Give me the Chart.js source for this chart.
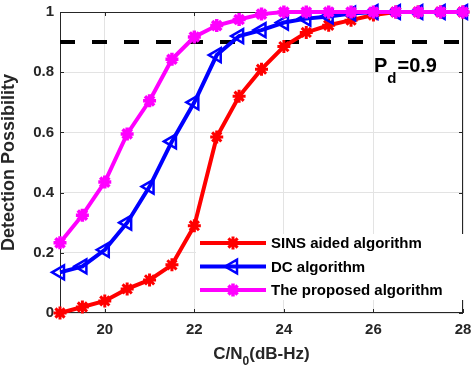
<!DOCTYPE html>
<html>
<head>
<meta charset="utf-8">
<script src="https://cdn.jsdelivr.net/npm/chart.js@4/dist/chart.umd.min.js"></script>
<style>
  html, body { margin: 0; padding: 0; background: #fff; }
  #wrap { width: 474px; height: 370px; }
</style>
</head>
<body>
<div id="wrap"><canvas id="detection-chart" width="474" height="370"></canvas></div>
<script>
// C/N0 sweep (dB-Hz)
const cnValues = [19, 19.5, 20, 20.5, 21, 21.5, 22, 22.5, 23, 23.5, 24, 24.5, 25, 25.5, 26, 26.5, 27, 27.5, 28]
const sinsValues = [0, 0.02, 0.04, 0.08, 0.11, 0.16, 0.29, 0.585, 0.72, 0.81, 0.885, 0.932, 0.956, 0.973, 0.99, 1, 1, 1, 1]
const dcValues = [0.135, 0.155, 0.21, 0.30, 0.42, 0.57, 0.70, 0.857, 0.92, 0.94, 0.965, 0.978, 0.985, 0.995, 1, 1, 1, 1, 1]
const proposedValues = [0.233, 0.325, 0.435, 0.595, 0.705, 0.843, 0.917, 0.955, 0.975, 0.993, 1, 1, 1, 1, 1, 1, 1, 1, 1]
const thresholdValue = 0.9
const xTicks = [20, 22, 24, 26, 28]
const yTicks = [0, 0.2, 0.4, 0.6, 0.8, 1]
const seriesNames = ['SINS aided algorithm', 'DC algorithm', 'The proposed algorithm']

const fontFamily = '"Liberation Sans", Arial, Helvetica, sans-serif'
const textColor = '#262626'

function toPoints(values) {
    return cnValues.map((x, i) => ({ x: x, y: values[i] }))
}

// draws box, inward ticks, legend, annotation and x title (with subscripts)
const decorations = {
    id: 'decorations',
    beforeDatasetsDraw(chart) {
        const { ctx, chartArea: a, scales } = chart
        ctx.save()
        ctx.strokeStyle = textColor
        ctx.lineWidth = 1
        ctx.strokeRect(a.left + 0.5, a.top + 0.5, a.right - a.left - 1, a.bottom - a.top - 1)
        ctx.beginPath()
        xTicks.forEach(v => {
            const px = Math.round(scales.x.getPixelForValue(v)) + 0.5
            ctx.moveTo(px, a.bottom); ctx.lineTo(px, a.bottom - 4)
            ctx.moveTo(px, a.top); ctx.lineTo(px, a.top + 4)
        })
        yTicks.forEach(v => {
            const py = Math.round(scales.y.getPixelForValue(v)) + 0.5
            ctx.moveTo(a.left, py); ctx.lineTo(a.left + 4, py)
            ctx.moveTo(a.right, py); ctx.lineTo(a.right - 4, py)
        })
        ctx.stroke()
        ctx.restore()
    },
    afterDraw(chart) {
        const { ctx, chartArea: a } = chart
        ctx.save()

        // legend
        const lx = 196, ly = 234
        ctx.fillStyle = '#fff'
        ctx.fillRect(lx, ly, 274, 66)
        const rows = chart.data.datasets.filter(d => d.legendRow !== undefined)
            .sort((p, q) => p.legendRow - q.legendRow)
        rows.forEach((ds, i) => {
            const y = 243 + i * 23.5
            ctx.strokeStyle = ds.borderColor
            ctx.fillStyle = ds.pointBackgroundColor
            ctx.lineWidth = ds.borderWidth
            ctx.setLineDash([])
            ctx.beginPath()
            ctx.moveTo(200, y)
            ctx.lineTo(266, y)
            ctx.stroke()
            ctx.lineWidth = ds.pointBorderWidth
            Chart.helpers.drawPoint(ctx, {
                pointStyle: ds.pointStyle,
                radius: ds.pointRadius,
                rotation: ds.pointRotation || 0,
                borderWidth: ds.pointBorderWidth
            }, 233, y)
            ctx.fillStyle = '#000'
            ctx.font = 'bold 15px ' + fontFamily
            ctx.textBaseline = 'middle'
            ctx.textAlign = 'left'
            ctx.fillText(ds.label, 271, y + 1)
        })

        // P_d = 0.9 label
        ctx.fillStyle = '#000'
        ctx.textBaseline = 'alphabetic'
        ctx.textAlign = 'left'
        ctx.font = 'bold 20px ' + fontFamily
        ctx.fillText('P', 374, 72)
        let px = 374 + ctx.measureText('P').width
        ctx.font = 'bold 15px ' + fontFamily
        ctx.fillText('d', px, 83)
        px += ctx.measureText('d').width + 1
        ctx.font = 'bold 20px ' + fontFamily
        ctx.fillText('=' + thresholdValue, px, 72)

        // x axis title C/N0(dB-Hz)
        ctx.fillStyle = textColor
        const parts = [['C/N', 17, 0], ['0', 12, 6], ['(dB-Hz)', 17, 0]]
        let total = 0
        parts.forEach(p => { ctx.font = 'bold ' + p[1] + 'px ' + fontFamily; total += ctx.measureText(p[0]).width })
        let tx = (a.left + a.right) / 2 - total / 2
        parts.forEach(p => {
            ctx.font = 'bold ' + p[1] + 'px ' + fontFamily
            ctx.fillText(p[0], tx, 359 + p[2])
            tx += ctx.measureText(p[0]).width
        })
        ctx.restore()
    }
}

const data = {
    datasets: [{
        label: seriesNames[2],
        legendRow: 2,
        data: toPoints(proposedValues),
        borderColor: '#ff00ff',
        pointBackgroundColor: '#ff00ff',
        pointBorderColor: '#ff00ff',
        borderWidth: 4,
        pointStyle: 'star',
        pointRadius: 6.5,
        pointBorderWidth: 3.5,
        order: 0,
        clip: false
    }, {
        label: seriesNames[1],
        legendRow: 1,
        data: toPoints(dcValues),
        borderColor: '#0000ff',
        pointBackgroundColor: 'rgba(0,0,0,0)',
        pointBorderColor: '#0000ff',
        borderWidth: 4,
        pointStyle: 'triangle',
        pointRotation: -90,
        pointRadius: 8,
        pointBorderWidth: 2.5,
        order: 1,
        clip: false
    }, {
        label: seriesNames[0],
        legendRow: 0,
        data: toPoints(sinsValues),
        borderColor: '#ff0000',
        pointBackgroundColor: '#ff0000',
        pointBorderColor: '#ff0000',
        borderWidth: 4,
        pointStyle: 'star',
        pointRadius: 6.5,
        pointBorderWidth: 3,
        order: 2,
        clip: false
    }, {
        label: 'threshold',
        data: [{ x: cnValues[0], y: thresholdValue }, { x: cnValues[cnValues.length - 1], y: thresholdValue }],
        borderColor: '#000',
        borderWidth: 4,
        borderDash: [15, 17],
        pointRadius: 0,
        order: 3
    }]
}

const config = {
    type: 'line',
    data: data,
    options: {
        responsive: false,
        animation: false,
        layout: { padding: { top: 12, right: 11, left: 0, bottom: 0 } },
        plugins: {
            legend: { display: false },
            tooltip: { enabled: false }
        },
        elements: { line: { tension: 0 } },
        scales: {
            x: {
                type: 'linear',
                min: 19,
                max: 28,
                afterBuildTicks: (scale) => { scale.ticks = xTicks.map(v => ({ value: v })) },
                afterFit: (scale) => {
                    scale.height = 57
                    scale.paddingLeft = 0
                    scale.paddingRight = 0
                },
                grid: { color: '#e3e3e3', drawTicks: false },
                border: { display: false },
                ticks: {
                    padding: 8,
                    color: textColor,
                    maxRotation: 0,
                    font: { family: fontFamily, size: 15, weight: 'bold' }
                }
            },
            y: {
                min: 0,
                max: 1,
                afterBuildTicks: (scale) => { scale.ticks = yTicks.map(v => ({ value: v })) },
                afterFit: (scale) => {
                    scale.width = 60
                    scale.paddingTop = 0
                    scale.paddingBottom = 0
                },
                grid: { color: '#e3e3e3', drawTicks: false },
                border: { display: false },
                ticks: {
                    padding: 6,
                    color: textColor,
                    callback: (value) => String(value),
                    font: { family: fontFamily, size: 15, weight: 'bold' }
                },
                title: {
                    display: true,
                    text: 'Detection Possibility',
                    color: textColor,
                    padding: 0,
                    font: { family: fontFamily, size: 18, weight: 'bold', lineHeight: 1.05 }
                }
            }
        }
    },
    plugins: [decorations]
}

new Chart(document.getElementById('detection-chart'), config)
</script>
</body>
</html>
